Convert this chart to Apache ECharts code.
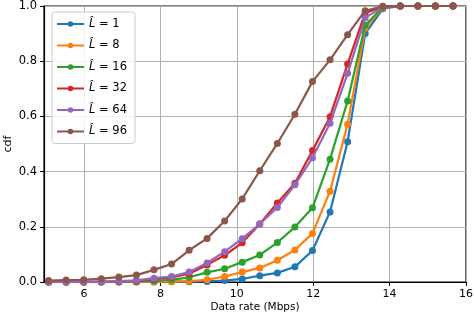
<!DOCTYPE html>
<html>
<head>
<meta charset="utf-8">
<script src="https://cdn.jsdelivr.net/npm/echarts@6/dist/echarts.min.js"></script>
<style>html,body{margin:0;padding:0;background:#fff}#c{width:474px;height:321px}</style>
</head>
<body>
<div id="c"></div>
<script>
const xValues = [5.07,5.53,5.99,6.45,6.91,7.37,7.83,8.29,8.75,9.22,9.68,10.14,10.60,11.06,11.52,11.98,12.44,12.90,13.36,13.82,14.28,14.74,15.20,15.66];
const seriesNames = ['L̂ = 1','L̂ = 8','L̂ = 16','L̂ = 32','L̂ = 64','L̂ = 96'];
const seriesColors = ['#1f77b4','#ff7f0e','#2ca02c','#d62728','#9467bd','#8c564b'];
const cdfL1  = [0,0,0,0,0,0,0,0.001,0.001,0.002,0.005,0.011,0.023,0.033,0.055,0.114,0.254,0.508,0.90,0.99,1,1,1,1];
const cdfL8  = [0,0,0,0,0,0,0.001,0.001,0.003,0.008,0.020,0.036,0.051,0.079,0.116,0.176,0.329,0.572,0.92,0.993,1,1,1,1];
const cdfL16 = [0,0,0,0,0.001,0.002,0.004,0.008,0.017,0.035,0.048,0.072,0.098,0.143,0.199,0.269,0.445,0.656,0.93,0.995,1,1,1,1];
const cdfL32 = [0,0,0,0.001,0.002,0.004,0.010,0.017,0.030,0.062,0.097,0.142,0.210,0.286,0.358,0.476,0.599,0.790,0.975,0.997,1,1,1,1];
const cdfL64 = [0,0,0.001,0.001,0.003,0.006,0.014,0.020,0.036,0.069,0.110,0.157,0.210,0.270,0.352,0.450,0.575,0.756,0.957,0.997,1,1,1,1];
const cdfL96 = [0.005,0.007,0.008,0.012,0.018,0.025,0.044,0.065,0.115,0.158,0.221,0.301,0.403,0.502,0.608,0.726,0.805,0.896,0.983,0.999,1,1,1,1];
const xTicks = [6,8,10,12,14,16];
const yTicks = [0,0.2,0.4,0.6,0.8,1.0];
const xTitle = 'Data rate (Mbps)';
const yTitle = 'cdf';

const allData = [cdfL1, cdfL8, cdfL16, cdfL32, cdfL64, cdfL96];
const font = 'DejaVu Sans';
const chart = echarts.init(document.getElementById('c'), null, {renderer:'canvas'});
chart.setOption({
  animation: false,
  textStyle: {fontFamily: font},
  grid: {left: 44, right: 8, top: 6, bottom: 39, containLabel: false, outerBoundsMode: 'none',
         show: true, borderColor: '#000', borderWidth: 1.2, backgroundColor: 'transparent'},
  xAxis: {
    type: 'value', min: 4.95, max: 16,
    name: xTitle, nameLocation: 'middle', nameGap: 25, nameMoveOverlap: false,
    nameTextStyle: {color: '#000', fontSize: 10.5, fontFamily: font, verticalAlign: 'middle'},
    axisLine: {show: true, lineStyle: {color: '#000', width: 1.2}},
    axisTick: {show: true, length: 4, inside: false, customValues: xTicks, lineStyle: {color: '#000'}},
    axisLabel: {customValues: xTicks, color: '#000', fontSize: 11, fontFamily: font, margin: 7, formatter: v => String(v)},
    splitLine: {show: true, lineStyle: {color: '#b0b0b0', width: 1}}
  },
  yAxis: {
    type: 'value', min: 0, max: 1, interval: 0.2,
    name: yTitle, nameLocation: 'middle', nameGap: 36, nameRotate: 90, nameMoveOverlap: false,
    nameTextStyle: {color: '#000', fontSize: 11, fontFamily: font, verticalAlign: 'middle'},
    axisLine: {show: true, lineStyle: {color: '#000', width: 1.2}},
    axisTick: {show: true, length: 4, lineStyle: {color: '#000'}},
    axisLabel: {color: '#000', fontSize: 11.5, fontFamily: font, margin: 7, formatter: v => v.toFixed(1)},
    splitLine: {show: true, lineStyle: {color: '#b0b0b0', width: 1}}
  },
  legend: {
    orient: 'vertical', left: 52, top: 12,
    backgroundColor: 'rgba(255,255,255,0.85)', borderColor: '#cccccc', borderWidth: 1, borderRadius: 3,
    padding: [6, 8, 6, 4], itemWidth: 27, itemHeight: 7, itemGap: 9.5,
    data: seriesNames,
    formatter: n => '{it|L̂}{t| = ' + n.split('= ')[1] + '}',
    textStyle: {
      color: '#000', fontSize: 11, fontFamily: font,
      rich: {
        it: {fontStyle: 'italic', fontSize: 11.5, fontFamily: font, color: '#000'},
        t: {fontSize: 11.5, fontFamily: font, color: '#000'}
      }
    }
  },
  series: allData.map((d, i) => ({
    name: seriesNames[i], type: 'line',
    data: d.map((y, j) => [xValues[j], y]),
    symbol: 'circle', symbolSize: 7, showSymbol: true,
    lineStyle: {color: seriesColors[i], width: 2.2},
    itemStyle: {color: seriesColors[i]},
    clip: false, z: 2 + i
  }))
});
</script>
</body>
</html>
